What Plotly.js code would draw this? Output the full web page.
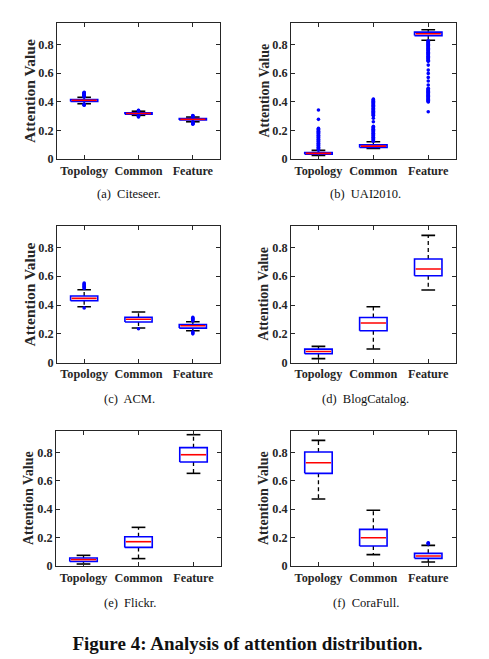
<!DOCTYPE html>
<html>
<head>
<meta charset="utf-8">
<script src="https://cdn.plot.ly/plotly-3.0.1.min.js"></script>
<style>
  body { margin: 0; background: #fff; }
  #plot1 { width: 489px; height: 659px; }
</style>
</head>
<body>
<div id="plot1"></div>
<script>
/////////////////////////////////////////////// data ///////////////////////////////////////////////////////
const categories = [ 'Topology', 'Common', 'Feature' ];
const captions = [ '(a)  Citeseer.', '(b)  UAI2010.', '(c)  ACM.', '(d)  BlogCatalog.', '(e)  Flickr.', '(f)  CoraFull.' ];
const figureTitle = 'Figure 4: Analysis of attention distribution.';
const yTitle = 'Attention Value';

// whisker low, q1, median, q3, whisker high  (Topology, Common, Feature)
const citeseerLo  = [ 0.386, 0.305, 0.260 ];
const citeseerQ1  = [ 0.402, 0.313, 0.272 ];
const citeseerMed = [ 0.410, 0.318, 0.277 ];
const citeseerQ3  = [ 0.416, 0.323, 0.282 ];
const citeseerHi  = [ 0.431, 0.334, 0.293 ];
const citeseerOut = [
  [ 0.433, 0.436, 0.439, 0.442, 0.445, 0.448, 0.451, 0.454, 0.457, 0.460, 0.463, 0.466, 0.384, 0.381, 0.378, 0.375 ],
  [ 0.336, 0.338, 0.340, 0.303, 0.300, 0.297, 0.294 ],
  [ 0.295, 0.298, 0.301, 0.304, 0.258, 0.255, 0.252, 0.249, 0.246, 0.243 ],
];

const uaiLo  = [ 0.025, 0.074, 0.829 ];
const uaiQ1  = [ 0.033, 0.080, 0.862 ];
const uaiMed = [ 0.039, 0.090, 0.875 ];
const uaiQ3  = [ 0.045, 0.099, 0.886 ];
const uaiHi  = [ 0.060, 0.121, 0.903 ];
const uaiOut = [
  [ 0.062, 0.066, 0.070, 0.074, 0.078, 0.082, 0.086, 0.090, 0.094, 0.098, 0.102, 0.106, 0.110, 0.114, 0.118, 0.122,
    0.126, 0.130, 0.134, 0.138, 0.142, 0.146, 0.150, 0.154, 0.158, 0.162, 0.166, 0.170, 0.174, 0.178, 0.182, 0.186,
    0.190, 0.194, 0.198, 0.202, 0.206, 0.210, 0.214, 0.277, 0.342 ],
  [ 0.124, 0.128, 0.132, 0.136, 0.140, 0.144, 0.148, 0.152, 0.156, 0.160, 0.164, 0.168, 0.172, 0.176, 0.180, 0.184,
    0.188, 0.192, 0.196, 0.200, 0.204, 0.208, 0.212, 0.216, 0.220, 0.224, 0.228, 0.260, 0.285,
    0.302, 0.306, 0.310, 0.314, 0.318, 0.322, 0.326, 0.330, 0.334, 0.338, 0.342, 0.346, 0.350, 0.354, 0.358,
    0.364, 0.368, 0.372, 0.376, 0.380, 0.384, 0.388, 0.392, 0.396, 0.400, 0.404, 0.408, 0.412, 0.416, 0.419 ],
  [ 0.826, 0.822, 0.818, 0.814, 0.810, 0.806, 0.802, 0.798, 0.794, 0.790, 0.786, 0.782, 0.778, 0.774, 0.770, 0.766,
    0.762, 0.758, 0.754, 0.750, 0.746, 0.742, 0.738, 0.734, 0.730, 0.726, 0.722, 0.718, 0.714, 0.710, 0.706, 0.702,
    0.698, 0.694, 0.690, 0.686, 0.682, 0.656, 0.621, 0.598, 0.570, 0.545, 0.517,
    0.494, 0.490, 0.486, 0.482, 0.478, 0.474, 0.470, 0.466, 0.462, 0.458, 0.454, 0.450, 0.446, 0.442, 0.438, 0.434,
    0.430, 0.426, 0.422, 0.418, 0.414, 0.410, 0.406, 0.402, 0.399, 0.330 ],
];

const acmLo  = [ 0.388, 0.241, 0.222 ];
const acmQ1  = [ 0.430, 0.282, 0.240 ];
const acmMed = [ 0.446, 0.301, 0.256 ];
const acmQ3  = [ 0.462, 0.315, 0.265 ];
const acmHi  = [ 0.506, 0.352, 0.284 ];
const acmOut = [
  [ 0.515, 0.522, 0.528, 0.534, 0.540, 0.546, 0.552, 0.380 ],
  [ 0.235 ],
  [ 0.290, 0.296, 0.302, 0.308, 0.314, 0.214, 0.207, 0.200 ],
];

const blogLo  = [ 0.028, 0.095, 0.504 ];
const blogQ1  = [ 0.062, 0.222, 0.603 ];
const blogMed = [ 0.078, 0.275, 0.650 ];
const blogQ3  = [ 0.094, 0.313, 0.719 ];
const blogHi  = [ 0.113, 0.388, 0.883 ];
const blogOut = [ [], [], [] ];

const flickrLo  = [ 0.014, 0.052, 0.652 ];
const flickrQ1  = [ 0.032, 0.131, 0.732 ];
const flickrMed = [ 0.045, 0.171, 0.783 ];
const flickrQ3  = [ 0.056, 0.206, 0.833 ];
const flickrHi  = [ 0.075, 0.272, 0.924 ];
const flickrOut = [ [], [], [] ];

const coraLo  = [ 0.471, 0.080, 0.028 ];
const coraQ1  = [ 0.652, 0.141, 0.054 ];
const coraMed = [ 0.727, 0.199, 0.070 ];
const coraQ3  = [ 0.802, 0.258, 0.089 ];
const coraHi  = [ 0.884, 0.392, 0.145 ];
const coraOut = [ [], [], [ 0.155, 0.160, 0.164 ] ];

/////////////////////////////////////////////// layout bits ///////////////////////////////////////////////////////
const panels = [
  { lo: citeseerLo, q1: citeseerQ1, med: citeseerMed, q3: citeseerQ3, hi: citeseerHi, out: citeseerOut },
  { lo: uaiLo, q1: uaiQ1, med: uaiMed, q3: uaiQ3, hi: uaiHi, out: uaiOut },
  { lo: acmLo, q1: acmQ1, med: acmMed, q3: acmQ3, hi: acmHi, out: acmOut },
  { lo: blogLo, q1: blogQ1, med: blogMed, q3: blogQ3, hi: blogHi, out: blogOut },
  { lo: flickrLo, q1: flickrQ1, med: flickrMed, q3: flickrQ3, hi: flickrHi, out: flickrOut },
  { lo: coraLo, q1: coraQ1, med: coraMed, q3: coraQ3, hi: coraHi, out: coraOut },
];

const W = 489, H = 659;
// plot area in pixels: [left, right, top, bottom]
const boxesPx = [
  [ 57, 220, 23, 159 ], [ 291, 455.7, 23, 159 ],
  [ 57, 220, 225.7, 362.7 ], [ 291, 455.7, 225.7, 362.7 ],
  [ 56, 221, 431, 566 ], [ 291, 455.7, 431, 566 ],
];
const yTitleSize = [ 15.5, 14, 15.5, 14, 14, 14 ];
const yTitleX = [ 29, 263.5, 29.3, 263.5, 28.5, 263.5 ];
const captionPos = [ [129, 194], [365, 194], [129, 399], [365, 399], [129.5, 603], [366, 603] ];

const serif = 'Liberation Serif';
const inkColor = '#262626';
const halfBox = 0.25, halfCap = 0.125;

/////////////////////////////////////////////// function ///////////////////////////////////////////////////////
function panelTraces(p, k) {
  const xa = 'x' + (k === 0 ? '' : k + 1);
  const ya = 'y' + (k === 0 ? '' : k + 1);
  const traces = [];
  for (let i = 0; i < categories.length; i++) {
    const x = i + 1;
    // dashed whiskers
    traces.push({
      x: [ x, x, null, x, x ], y: [ p.q3[i], p.hi[i], null, p.q1[i], p.lo[i] ],
      xaxis: xa, yaxis: ya, mode: 'lines', type: 'scatter', hoverinfo: 'skip',
      line: { color: '#000', width: 1.3, dash: '4px,3px' },
    });
    // caps
    traces.push({
      x: [ x - halfCap, x + halfCap, null, x - halfCap, x + halfCap ], y: [ p.hi[i], p.hi[i], null, p.lo[i], p.lo[i] ],
      xaxis: xa, yaxis: ya, mode: 'lines', type: 'scatter', hoverinfo: 'skip',
      line: { color: '#000', width: 1.6 },
    });
    // box
    traces.push({
      x: [ x - halfBox, x + halfBox, x + halfBox, x - halfBox, x - halfBox ],
      y: [ p.q1[i], p.q1[i], p.q3[i], p.q3[i], p.q1[i] ],
      xaxis: xa, yaxis: ya, mode: 'lines', type: 'scatter', hoverinfo: 'skip',
      fill: 'toself', fillcolor: '#fff',
      line: { color: '#0000ff', width: 1.6 },
    });
    // median
    traces.push({
      x: [ x - halfBox + 0.02, x + halfBox - 0.02 ], y: [ p.med[i], p.med[i] ],
      xaxis: xa, yaxis: ya, mode: 'lines', type: 'scatter', hoverinfo: 'skip',
      line: { color: '#ff0000', width: 1.6 },
    });
    // outliers
    if (p.out[i].length > 0) {
      traces.push({
        x: p.out[i].map(() => x), y: p.out[i],
        xaxis: xa, yaxis: ya, mode: 'markers', type: 'scatter',
        marker: { color: '#0000ff', size: 3.6, symbol: 'circle' },
      });
    }
  }
  return traces;
}

let dataAll = [];
const layout = {
  width: W, height: H,
  margin: { l: 0, r: 0, t: 0, b: 0 },
  paper_bgcolor: '#fff', plot_bgcolor: '#fff',
  showlegend: false,
  font: { family: serif, color: inkColor },
  title: {
    text: figureTitle, x: 247.5 / W, xanchor: 'center', y: 1 - 643 / H, yanchor: 'middle',
    font: { family: serif, size: 19, weight: 'bold', color: '#111' },
  },
  annotations: [],
};

for (let k = 0; k < panels.length; k++) {
  dataAll = dataAll.concat(panelTraces(panels[k], k));
  const b = boxesPx[k];
  const sfx = k === 0 ? '' : String(k + 1);
  layout['xaxis' + sfx] = {
    domain: [ b[0] / W, b[1] / W ], anchor: 'y' + sfx,
    range: [ 0.5, 3.5 ], tickvals: [ 1, 2, 3 ], ticktext: categories,
    ticks: 'inside', ticklen: 4, tickcolor: inkColor, mirror: 'ticks',
    showline: true, linecolor: inkColor, linewidth: 1, showgrid: false, zeroline: false,
    tickfont: { family: serif, size: 12.2, weight: 'bold', color: inkColor },
    fixedrange: true,
  };
  layout['yaxis' + sfx] = {
    domain: [ 1 - b[3] / H, 1 - b[2] / H ], anchor: 'x' + sfx,
    range: [ 0, 0.95 ], tick0: 0, dtick: 0.2,
    ticks: 'inside', ticklen: 4, tickcolor: inkColor, mirror: 'ticks',
    showline: true, linecolor: inkColor, linewidth: 1, showgrid: false, zeroline: false,
    tickfont: { family: serif, size: 12.2, weight: 'bold', color: inkColor },
    fixedrange: true,
  };
  // y axis title, placed by hand so it sits close to the tick labels
  layout.annotations.push({
    text: yTitle, xref: 'paper', yref: 'paper', textangle: -90,
    x: yTitleX[k] / W, y: 1 - (b[2] + b[3]) / 2 / H, xanchor: 'center', yanchor: 'middle',
    showarrow: false, font: { family: serif, size: yTitleSize[k], weight: 'bold', color: inkColor },
  });
  layout.annotations.push({
    text: captions[k], xref: 'paper', yref: 'paper',
    x: captionPos[k][0] / W, y: 1 - captionPos[k][1] / H, xanchor: 'center', yanchor: 'middle',
    showarrow: false, font: { family: serif, size: 12.5, color: '#111' },
  });
}

Plotly.newPlot('plot1', dataAll, layout, { displayModeBar: false, staticPlot: true });
</script>
</body>
</html>
